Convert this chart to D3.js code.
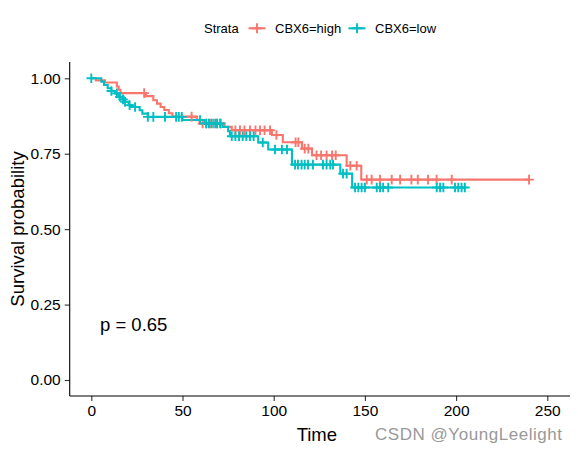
<!DOCTYPE html>
<html>
<head>
<meta charset="utf-8">
<script src="https://cdn.jsdelivr.net/npm/d3@7"></script>
<style>
  body { margin: 0; background: #fff; }
  text { font-family: "Liberation Sans", Arial, sans-serif; }
</style>
</head>
<body>
<script>
//Define data
const strata = ['CBX6=high', 'CBX6=low'];
const colors = ['#F8766D', '#00BFC4'];

// step points of each curve (time, survival)
const highTimes = [0, 2.5, 7.5, 14, 15, 16, 30, 34, 36, 38, 40, 42.5, 44.5, 58, 59.5, 73, 77, 99, 105, 115.5, 121, 140, 148];
const highSurv = [1, 0.993, 0.986, 0.973, 0.962, 0.951, 0.941, 0.927, 0.916, 0.905, 0.895, 0.884, 0.873, 0.861, 0.85, 0.839, 0.828, 0.812, 0.788, 0.767, 0.745, 0.71, 0.664];
const highEnd = 240;
const highCensor = [29, 55, 61, 63, 65, 67, 69, 71, 79, 81.5, 84, 87, 90, 92.5, 95, 98, 101.5, 112, 113.5, 117, 119,
  123.5, 126, 129, 132, 134, 142, 145.5, 151, 153.7, 158.3, 164.7, 169.3, 175.5, 179, 184.6, 189.3, 197.6, 240];

const lowTimes = [0, 5.5, 7, 9, 11, 13, 15, 17, 18.5, 20.5, 22, 26.5, 28, 31, 50, 62, 72, 75, 76, 91.5, 97, 110, 136.5, 143];
const lowSurv = [1, 0.989, 0.978, 0.967, 0.958, 0.95, 0.939, 0.93, 0.922, 0.911, 0.905, 0.894, 0.883, 0.872, 0.862, 0.85, 0.839, 0.825, 0.808, 0.787, 0.764, 0.714, 0.684, 0.638];
const lowEnd = 205;
const lowCensor = [0, 11, 14, 15.7, 17.4, 18.5, 21, 24, 31, 34, 40.4, 46.5, 48, 49.6, 59.6, 63, 64.5, 66, 68, 69, 70.6,
  77, 79, 81, 83, 85, 87, 89, 94, 100.7, 104.5, 107.3, 111.7, 113.3, 115.3, 117, 118.8, 121.5, 127, 129, 131, 132.5,
  138, 140, 144.6, 146.4, 148.2, 150, 156.5, 158.3, 160, 162.8, 189.4, 191.2, 193, 199.4, 201.2, 203, 204.8];

const xTicks = [0, 50, 100, 150, 200, 250];
const yTicks = [0, 0.25, 0.5, 0.75, 1];
const pText = 'p = 0.65';

// Create SVG
let
  width = 578,
  height = 451;

let svg = d3
  .select('body')
  .append('svg')
    .attr('width', width)
    .attr('height', height);

// Define Scales
let xScale = d3.scaleLinear()
  .domain([0, 250])
  .range([91.3, 547.3]);

let yScale = d3.scaleLinear()
  .domain([0, 1])
  .range([380, 78.3]);

let panel = { left: 69.7, right: 570, top: 62, bottom: 396 };

//Draw Axes
let xAxis = svg
  .append('g')
    .attr('transform', `translate(0,${panel.bottom})`)
    .call(d3.axisBottom(xScale).tickValues(xTicks).tickSize(5).tickPadding(4).tickFormat(d3.format('d')));

let yAxis = svg
  .append('g')
    .attr('transform', `translate(${panel.left},0)`)
    .call(d3.axisLeft(yScale).tickValues(yTicks).tickSize(5).tickPadding(4).tickFormat(d3.format('.2f')));

[xAxis, yAxis].forEach(ax => {
  ax.select('.domain').remove();
  ax.selectAll('.tick line').attr('stroke', '#333').attr('stroke-width', 1.1);
  ax.selectAll('.tick text')
    .attr('fill', '#000')
    .style('font-size', '15.5px');
});

svg.append('line')
  .attr('x1', panel.left).attr('x2', panel.right)
  .attr('y1', panel.bottom).attr('y2', panel.bottom)
  .attr('stroke', '#000').attr('stroke-width', 1.1);
svg.append('line')
  .attr('x1', panel.left).attr('x2', panel.left)
  .attr('y1', panel.top).attr('y2', panel.bottom)
  .attr('stroke', '#000').attr('stroke-width', 1.1);

//Add labels
svg.append('text')
  .attr('x', (panel.left + panel.right) / 2 - 3)
  .attr('y', 441)
  .attr('text-anchor', 'middle')
  .style('font-size', '18.5px')
  .text('Time');

svg.append('text')
  .attr('transform', `translate(24,${(panel.top + panel.bottom) / 2}) rotate(-90)`)
  .attr('text-anchor', 'middle')
  .style('font-size', '18.5px')
  .text('Survival probability');

// curves
let curves = [
  { times: highTimes, surv: highSurv, end: highEnd, censor: highCensor },
  { times: lowTimes, surv: lowSurv, end: lowEnd, censor: lowCensor }
];

let line = d3.line()
  .x(d => xScale(d[0]))
  .y(d => yScale(d[1]))
  .curve(d3.curveStepAfter);

curves.forEach((c, i) => {
  let pts = c.times.map((t, j) => [t, c.surv[j]]);
  pts.push([c.end, c.surv[c.surv.length - 1]]);
  svg.append('path')
    .attr('d', line(pts))
    .attr('fill', 'none')
    .attr('stroke', colors[i])
    .attr('stroke-width', 2.1);
});

// censor marks
let bisect = d3.bisector(d => d).right;
let cross = (x, y, s) => `M${x - s},${y}H${x + s}M${x},${y - s}V${y + s}`;

curves.forEach((c, i) => {
  svg.append('g')
    .selectAll('path')
    .data(c.censor)
    .enter()
    .append('path')
      .attr('d', t => {
        let s = c.surv[Math.max(0, bisect(c.times, t) - 1)];
        return cross(xScale(t), yScale(s), 4.8);
      })
      .attr('stroke', colors[i])
      .attr('stroke-width', 1.9);
});

// p value
svg.append('text')
  .attr('x', 100)
  .attr('y', 331)
  .style('font-size', '18.5px')
  .text(pText);

//Legend
let legend = svg.append('g');
legend.append('text')
  .attr('x', 204)
  .attr('y', 33)
  .style('font-size', '13px')
  .text('Strata');

let keyX = [257, 357];
let labelX = [275, 375];
strata.forEach((s, i) => {
  legend.append('line')
    .attr('x1', keyX[i] - 8.5).attr('x2', keyX[i] + 8.5)
    .attr('y1', 28.3).attr('y2', 28.3)
    .attr('stroke', colors[i]).attr('stroke-width', 2.1);
  legend.append('path')
    .attr('d', cross(keyX[i], 28.3, 5))
    .attr('stroke', colors[i]).attr('stroke-width', 1.9);
  legend.append('text')
    .attr('x', labelX[i])
    .attr('y', 33)
    .style('font-size', '13px')
    .text(s);
});

// watermark
svg.append('text')
  .attr('x', 375)
  .attr('y', 440)
  .attr('fill', '#999')
  .attr('textLength', 187)
  .style('font-size', '17px')
  .text('CSDN @YoungLeelight');
</script>
</body>
</html>
